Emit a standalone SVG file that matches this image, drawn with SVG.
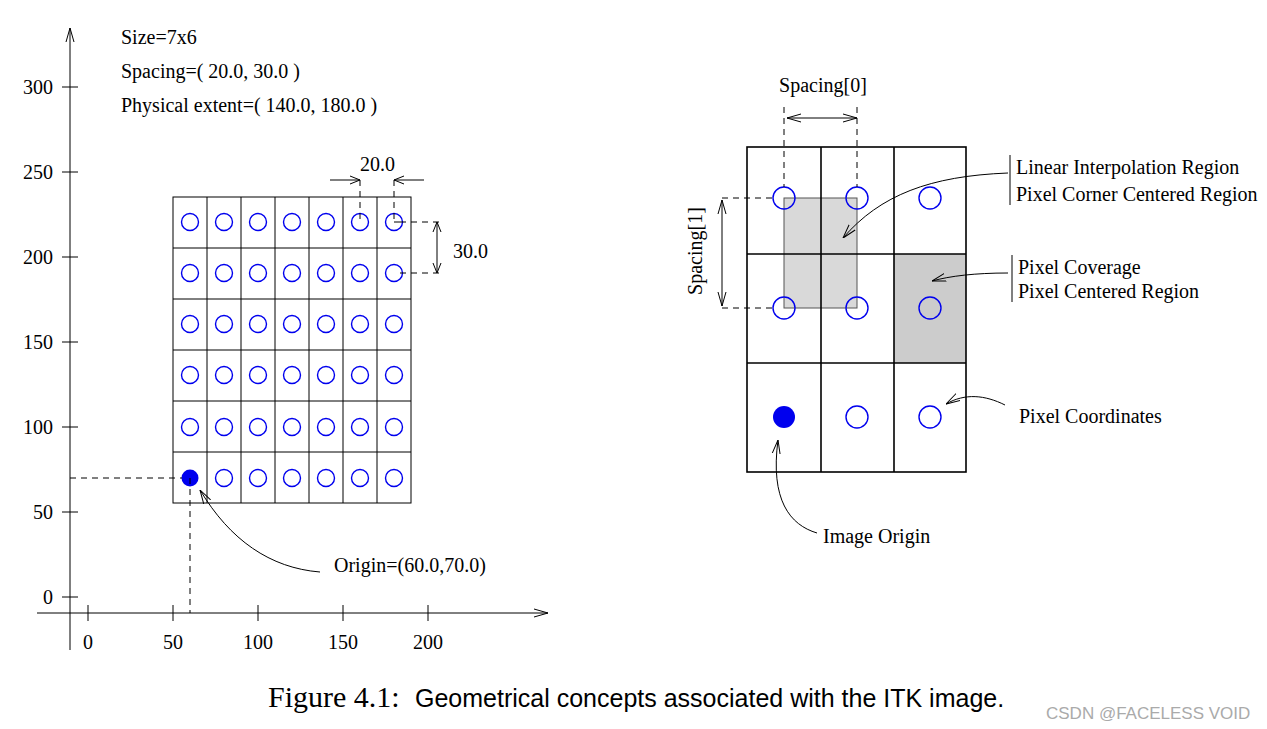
<svg xmlns="http://www.w3.org/2000/svg" width="1267" height="729" viewBox="0 0 1267 729">
<defs>
<marker id="ah" viewBox="0 0 10 10" refX="10" refY="5" markerWidth="10" markerHeight="10" markerUnits="userSpaceOnUse" orient="auto-start-reverse"><path d="M0,1 L10,5 L0,9" fill="none" stroke="#000" stroke-width="1"/></marker>
<marker id="ah2" viewBox="0 0 14 10" refX="14" refY="5" markerWidth="14" markerHeight="10" markerUnits="userSpaceOnUse" orient="auto-start-reverse"><path d="M0,1 L14,5 L0,9" fill="none" stroke="#000" stroke-width="1"/></marker>
</defs>
<style>
text{font-family:"Liberation Serif",serif;font-size:20px;fill:#000}
.c{fill:none;stroke:#0000ee;stroke-width:1.4}
.g{fill:none;stroke:#000;stroke-width:1}
.gt{fill:none;stroke:#000;stroke-width:1.6}
.d{fill:none;stroke:#000;stroke-width:1;stroke-dasharray:6,5}
.l{fill:none;stroke:#000;stroke-width:1}
</style>
<rect width="1267" height="729" fill="#fff"/>
<g id="axes">
<line class="l" x1="70" y1="650" x2="70" y2="28" marker-end="url(#ah2)"/>
<line class="l" x1="37" y1="613" x2="548" y2="613" marker-end="url(#ah2)"/>
<g class="l">
<line x1="62" y1="87" x2="78" y2="87"/><line x1="62" y1="172" x2="78" y2="172"/><line x1="62" y1="257" x2="78" y2="257"/><line x1="62" y1="342" x2="78" y2="342"/><line x1="62" y1="427" x2="78" y2="427"/><line x1="62" y1="512" x2="78" y2="512"/><line x1="62" y1="597" x2="78" y2="597"/>
<line x1="88" y1="605" x2="88" y2="621"/><line x1="173" y1="605" x2="173" y2="621"/><line x1="258" y1="605" x2="258" y2="621"/><line x1="343" y1="605" x2="343" y2="621"/><line x1="428" y1="605" x2="428" y2="621"/>
</g>
<g text-anchor="end">
<text x="53" y="94">300</text><text x="53" y="179">250</text><text x="53" y="264">200</text><text x="53" y="349">150</text><text x="53" y="434">100</text><text x="53" y="519">50</text><text x="53" y="604">0</text>
</g>
<g text-anchor="middle">
<text x="88" y="649">0</text><text x="173" y="649">50</text><text x="258" y="649">100</text><text x="343" y="649">150</text><text x="428" y="649">200</text>
</g>
<text x="121" y="44">Size=7x6</text>
<text x="121" y="78">Spacing=( 20.0, 30.0 )</text>
<text x="121" y="112">Physical extent=( 140.0, 180.0 )</text>
</g>
<g id="left-grid">
<rect class="g" x="173" y="197" width="238" height="306"/>
<g class="g">
<line x1="207" y1="197" x2="207" y2="503"/><line x1="241" y1="197" x2="241" y2="503"/><line x1="275" y1="197" x2="275" y2="503"/><line x1="309" y1="197" x2="309" y2="503"/><line x1="343" y1="197" x2="343" y2="503"/><line x1="377" y1="197" x2="377" y2="503"/>
<line x1="173" y1="248" x2="411" y2="248"/><line x1="173" y1="299" x2="411" y2="299"/><line x1="173" y1="350" x2="411" y2="350"/><line x1="173" y1="401" x2="411" y2="401"/><line x1="173" y1="452" x2="411" y2="452"/>
</g>
<g class="c">
<circle cx="190" cy="222" r="8.5"/><circle cx="224" cy="222" r="8.5"/><circle cx="258" cy="222" r="8.5"/><circle cx="292" cy="222" r="8.5"/><circle cx="326" cy="222" r="8.5"/><circle cx="360" cy="222" r="8.5"/><circle cx="394" cy="222" r="8.5"/>
<circle cx="190" cy="273" r="8.5"/><circle cx="224" cy="273" r="8.5"/><circle cx="258" cy="273" r="8.5"/><circle cx="292" cy="273" r="8.5"/><circle cx="326" cy="273" r="8.5"/><circle cx="360" cy="273" r="8.5"/><circle cx="394" cy="273" r="8.5"/>
<circle cx="190" cy="324" r="8.5"/><circle cx="224" cy="324" r="8.5"/><circle cx="258" cy="324" r="8.5"/><circle cx="292" cy="324" r="8.5"/><circle cx="326" cy="324" r="8.5"/><circle cx="360" cy="324" r="8.5"/><circle cx="394" cy="324" r="8.5"/>
<circle cx="190" cy="375" r="8.5"/><circle cx="224" cy="375" r="8.5"/><circle cx="258" cy="375" r="8.5"/><circle cx="292" cy="375" r="8.5"/><circle cx="326" cy="375" r="8.5"/><circle cx="360" cy="375" r="8.5"/><circle cx="394" cy="375" r="8.5"/>
<circle cx="190" cy="427" r="8.5"/><circle cx="224" cy="427" r="8.5"/><circle cx="258" cy="427" r="8.5"/><circle cx="292" cy="427" r="8.5"/><circle cx="326" cy="427" r="8.5"/><circle cx="360" cy="427" r="8.5"/><circle cx="394" cy="427" r="8.5"/>
<circle cx="224" cy="478" r="8.5"/><circle cx="258" cy="478" r="8.5"/><circle cx="292" cy="478" r="8.5"/><circle cx="326" cy="478" r="8.5"/><circle cx="360" cy="478" r="8.5"/><circle cx="394" cy="478" r="8.5"/>
</g>
<circle cx="190" cy="478" r="8.5" fill="#0000ee"/>
</g>
<g id="left-dims">
<path class="d" d="M360,180 V222 M394,180 V222 M394,222 H400 M400,222 H440 M400,273 H440 M70,478 H182 M190,478 V613"/>
<line class="l" x1="330" y1="180" x2="360" y2="180" marker-end="url(#ah)"/>
<line class="l" x1="424" y1="180" x2="394" y2="180" marker-end="url(#ah)"/>
<line class="l" x1="437" y1="222" x2="437" y2="273" marker-start="url(#ah)" marker-end="url(#ah)"/>
<text x="360" y="171">20.0</text>
<text x="453" y="258">30.0</text>
<path class="l" d="M320,572 C270,568 230,540 200,490" marker-end="url(#ah2)"/>
<text x="334" y="572">Origin=(60.0,70.0)</text>
</g>
<g id="right-grid">
<rect x="784" y="198" width="73" height="110" fill="#d9d9d9" stroke="#555" stroke-width="1"/>
<rect x="894" y="254" width="72" height="109" fill="#cccccc"/>
<rect class="gt" x="747" y="147" width="219" height="325"/>
<g class="gt">
<line x1="821" y1="147" x2="821" y2="472"/><line x1="894" y1="147" x2="894" y2="472"/>
<line x1="747" y1="254" x2="966" y2="254"/><line x1="747" y1="363" x2="966" y2="363"/>
</g>
<g class="c" stroke-width="2">
<circle cx="784" cy="198" r="11"/><circle cx="857" cy="198" r="11"/><circle cx="930" cy="198" r="11"/>
<circle cx="784" cy="308" r="11"/><circle cx="857" cy="308" r="11"/><circle cx="930" cy="308" r="11"/>
<circle cx="857" cy="417" r="11"/><circle cx="930" cy="417" r="11"/>
</g>
<circle cx="784" cy="417" r="11" fill="#0000ee"/>
</g>
<g id="right-dims">
<path class="d" d="M784,107 V187 M857,107 V187 M722,198 H773 M722,308 H773"/>
<line class="l" x1="787" y1="118" x2="857" y2="118" marker-start="url(#ah2)" marker-end="url(#ah2)"/>
<line class="l" x1="722" y1="200" x2="722" y2="306" marker-start="url(#ah2)" marker-end="url(#ah2)"/>
<text x="823" y="92" text-anchor="middle">Spacing[0]</text>
<text transform="translate(702,251) rotate(-90)" text-anchor="middle">Spacing[1]</text>
</g>
<g id="connectors">
<path class="l" d="M1008,173 C930,176 880,195 843,238" marker-end="url(#ah2)"/>
<path class="l" d="M1008,273 C975,273 950,276 932,281" marker-end="url(#ah2)"/>
<path class="l" d="M1005,405 C985,395 965,393 946,404" marker-end="url(#ah2)"/>
<path class="l" d="M817,533 C790,525 770,500 778,440" marker-end="url(#ah2)"/>
<line class="l" x1="1010" y1="155" x2="1010" y2="205"/>
<line class="l" x1="1012" y1="255" x2="1012" y2="302"/>
</g>
<g id="labels">
<text x="1016" y="174">Linear Interpolation Region</text>
<text x="1016" y="201">Pixel Corner Centered Region</text>
<text x="1018" y="274">Pixel Coverage</text>
<text x="1018" y="298">Pixel Centered Region</text>
<text x="1019" y="423">Pixel Coordinates</text>
<text x="823" y="543">Image Origin</text>
</g>
<g id="caption">
<text x="268" y="707" style="font-size:30px">Figure 4.1:</text>
<text x="415" y="707" style="font-family:'Liberation Sans',sans-serif;font-size:25px">Geometrical concepts associated with the ITK image.</text>
<text x="1046" y="719" style="font-family:'Liberation Sans',sans-serif;font-size:17px;fill:#aaa">CSDN @FACELESS VOID</text>
</g>
</svg>
